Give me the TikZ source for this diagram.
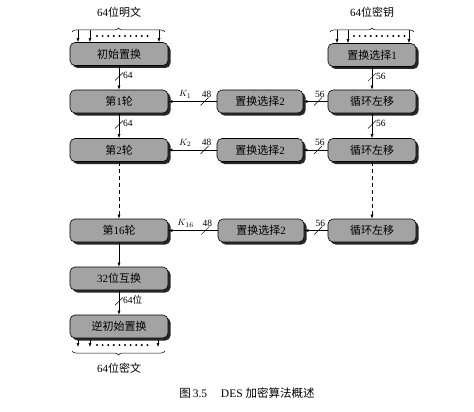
\documentclass[tikz,border=0pt]{standalone}
\usepackage{fontspec}
\setmainfont{Liberation Serif}
\newfontfamily\zh{Noto Sans CJK SC}
\newcommand\zz[1]{{\zh #1}}
\usetikzlibrary{shadows,arrows.meta,decorations.pathreplacing,calc}
\begin{document}
\begin{tikzpicture}[x=1pt,y=-1pt,
 box/.style={draw=black, line width=0.6pt, rounded corners=5pt, fill=black!36,
   minimum height=23pt, inner sep=0pt, font=\fontsize{11}{12}\selectfont,
   drop shadow={shadow xshift=2.5pt, shadow yshift=-2.5pt, fill=black!85, opacity=1}},
 lbox/.style={box, minimum width=98pt},
 mbox/.style={box, minimum width=86pt},
 rbox/.style={box, minimum width=88pt},
 arr/.style={-{Latex[length=4pt,width=3pt]}, line width=0.5pt},
 dsh/.style={dash pattern=on 4pt off 3pt},
 lab/.style={font=\fontsize{9.5}{10}\selectfont, inner sep=1pt},
 slash/.style={line width=0.5pt},
 brc/.style={decorate, decoration={brace, amplitude=4pt}, line width=0.5pt},
 dotline/.style={line width=2.2pt, dash pattern=on 0pt off 5.6pt, line cap=round},
]
\useasboundingbox (0,0) rectangle (474,412);
% left column
\node[lbox] (ip) at (119,54) {\zz{初始置换}};
\node[lbox] (r1) at (119,101.5) {\zz{第}1\zz{轮}};
\node[lbox] (r2) at (119,150) {\zz{第}2\zz{轮}};
\node[lbox] (r16) at (119,230.5) {\zz{第}16\zz{轮}};
\node[lbox] (sw) at (119,278.5) {32\zz{位互换}};
\node[lbox] (fp) at (119,326.5) {\zz{逆初始置换}};
% right column
\node[rbox] (pc1) at (372,55) {\zz{置换选择}1};
\node[rbox] (ls1) at (372,101.5) {\zz{循环左移}};
\node[rbox] (ls2) at (372,150) {\zz{循环左移}};
\node[rbox] (ls16) at (372,230.5) {\zz{循环左移}};
% middle column
\node[mbox] (pa) at (260,101.5) {\zz{置换选择}2};
\node[mbox] (pb) at (260,150) {\zz{置换选择}2};
\node[mbox] (pc) at (261,230.5) {\zz{置换选择}2};

% top left input
\node[font=\fontsize{11}{12}\selectfont] (pt) at (119,12) {64\zz{位明文}};
\draw[brc] (72,32) -- (165,32);
\coordinate (a1) at (78,30); \coordinate (a2) at (90,30); \coordinate (a3) at (159,30);
\foreach \c in {a1,a2,a3} \draw[arr] (\c) -- (\c |- ip.north);
\draw[dotline] (97,36) -- (149,36);
% top right input
\node[font=\fontsize{11}{12}\selectfont] (kt) at (372,12) {64\zz{位密钥}};
\draw[brc] (330,32) -- (414,32);
\coordinate (b1) at (337,30); \coordinate (b2) at (348,30); \coordinate (b3) at (409,30);
\foreach \c in {b1,b2,b3} \draw[arr] (\c) -- (\c |- pc1.north);
\draw[dotline] (354,36) -- (406,36);

% vertical left
\draw[arr] (ip) -- coordinate[pos=.45] (s1) (r1);
\draw[slash] (s1) ++(-4,4) -- ++(8,-8);
\node[lab,anchor=west] at ($(s1)+(3,-1)$) {64};
\draw[arr] (r1) -- coordinate[pos=.45] (s2) (r2);
\draw[slash] (s2) ++(-4,4) -- ++(8,-8);
\node[lab,anchor=west] at ($(s2)+(3,-1)$) {64};
\draw[arr, dsh] (r2) -- (r16);
\draw[arr] (r16) -- (sw);
\draw[arr] (sw) -- coordinate[pos=.45] (s3) (fp);
\draw[slash] (s3) ++(-4,4) -- ++(8,-8);
\node[lab,anchor=west] at ($(s3)+(3,-1)$) {64\zz{位}};

% vertical right
\draw[arr] (pc1) -- coordinate[pos=.45] (t1) (ls1);
\draw[slash] (t1) ++(-4,4) -- ++(8,-8);
\node[lab,anchor=west] at ($(t1)+(3,-1)$) {56};
\draw[arr] (ls1) -- coordinate[pos=.45] (t2) (ls2);
\draw[slash] (t2) ++(-4,4) -- ++(8,-8);
\node[lab,anchor=west] at ($(t2)+(3,-1)$) {56};
\draw[arr, dsh] (ls2) -- (ls16);

% horizontal rows
\foreach \ls/\pp/\rr/\k in {ls1/pa/r1/1, ls2/pb/r2/2, ls16/pc/r16/16}{
  \draw[arr] (\ls) -- coordinate[pos=.4] (u) (\pp);
  \draw[slash] (u) ++(-4,4) -- ++(8,-8);
  \node[lab,anchor=south] at ($(u)+(2,-3)$) {56};
  \draw[arr] (\pp) -- coordinate[pos=.25] (v) coordinate[pos=.65] (w) (\rr);
  \draw[slash] (v) ++(-4,4) -- ++(8,-8);
  \node[lab,anchor=south] at ($(v)+(2,-3)$) {48};
  \node[lab,anchor=south] at ($(w)+(0,-2)$) {$K_{\k}$};
}

% bottom output
\coordinate (c1) at (78,347); \coordinate (c2) at (90,347); \coordinate (c3) at (158,347);
\foreach \c in {c1,c2,c3} \draw[arr] (\c |- fp.south) ++(0,2) -- (\c);
\draw[dotline] (97,345) -- (149,345);
\draw[brc] (165,351) -- (72,351);
\node[font=\fontsize{11}{12}\selectfont] (ct) at (119,368) {64\zz{位密文}};

% caption
\node[font=\fontsize{11.5}{13}\selectfont] (cap) at (247,393) {\zz{图}\,3.5\hspace{1.2em}DES \zz{加密算法概述}};
\end{tikzpicture}
\end{document}
